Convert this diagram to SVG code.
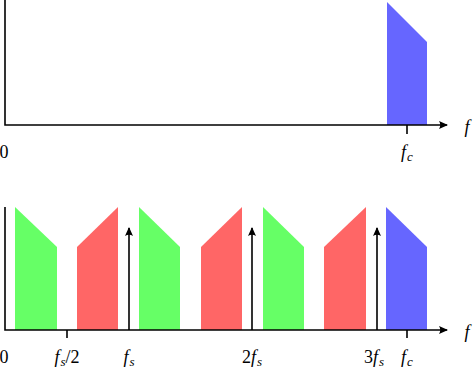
<svg xmlns="http://www.w3.org/2000/svg" width="474" height="371" viewBox="0 0 474 371">
<style>
.g{fill:#66ff66}
.r{fill:#ff6666}
.b{fill:#6666ff}
.ax{stroke:#000;stroke-width:1.6;fill:none}
.t{font-family:"Liberation Serif","DejaVu Serif",serif;font-size:18px;fill:#000;text-anchor:middle}
.i{font-style:italic}
.s{font-size:13px;font-style:italic}
</style>
<defs>
<marker id="ah" markerUnits="userSpaceOnUse" markerWidth="12" markerHeight="10" viewBox="-10 -5 12 10" refX="0" refY="0" orient="auto">
<path d="M1,0 L-8,-4 Q-5.5,0 -8,4 Z" fill="#000"/>
</marker>
</defs>
<rect width="474" height="371" fill="#fff"/>
<g id="top-band"><polygon class="b" points="387,2 427,42 427,125 387,125"/></g>
<g id="band-g1"><polygon class="g" points="15,207 57,247 57,330 15,330"/></g>
<g id="band-r1"><polygon class="r" points="77,247 118,207 118,330 77,330"/></g>
<g id="band-g2"><polygon class="g" points="139,207 180,247 180,330 139,330"/></g>
<g id="band-r2"><polygon class="r" points="201,247 242,207 242,330 201,330"/></g>
<g id="band-g3"><polygon class="g" points="263,207 304,247 304,330 263,330"/></g>
<g id="band-r3"><polygon class="r" points="324,247 366,207 366,330 324,330"/></g>
<g id="band-b"><polygon class="b" points="386,207 427,247 427,330 386,330"/></g>
<g id="connectors">
<path class="ax" d="M5,0 V125 H447" marker-end="url(#ah)"/>
<path class="ax" d="M407,125 V134"/>
<path class="ax" d="M5,207 V330 H447" marker-end="url(#ah)"/>
<path class="ax" d="M67,330 V338"/>
<path class="ax" d="M407,330 V338"/>
<path class="ax" d="M129,330 V228" marker-end="url(#ah)"/>
<path class="ax" d="M252,330 V228" marker-end="url(#ah)"/>
<path class="ax" d="M377,330 V228" marker-end="url(#ah)"/>
</g>
<g id="labels">
<text class="t" x="4" y="158">0</text>
<text class="t i" x="467" y="133">f</text>
<text class="t" x="407" y="158"><tspan class="i">f</tspan><tspan class="s" dx="1" dy="3">c</tspan></text>
<text class="t" x="4" y="363">0</text>
<text class="t i" x="467" y="338">f</text>
<text class="t" x="67" y="363"><tspan class="i">f</tspan><tspan class="s" dx="1" dy="3">s</tspan><tspan dy="-3">/2</tspan></text>
<text class="t" x="129" y="363"><tspan class="i">f</tspan><tspan class="s" dx="1" dy="3">s</tspan></text>
<text class="t" x="252" y="363">2<tspan class="i">f</tspan><tspan class="s" dx="1" dy="3">s</tspan></text>
<text class="t" x="374" y="363">3<tspan class="i">f</tspan><tspan class="s" dx="1" dy="3">s</tspan></text>
<text class="t" x="407" y="363"><tspan class="i">f</tspan><tspan class="s" dx="1" dy="3">c</tspan></text>
</g>
</svg>
